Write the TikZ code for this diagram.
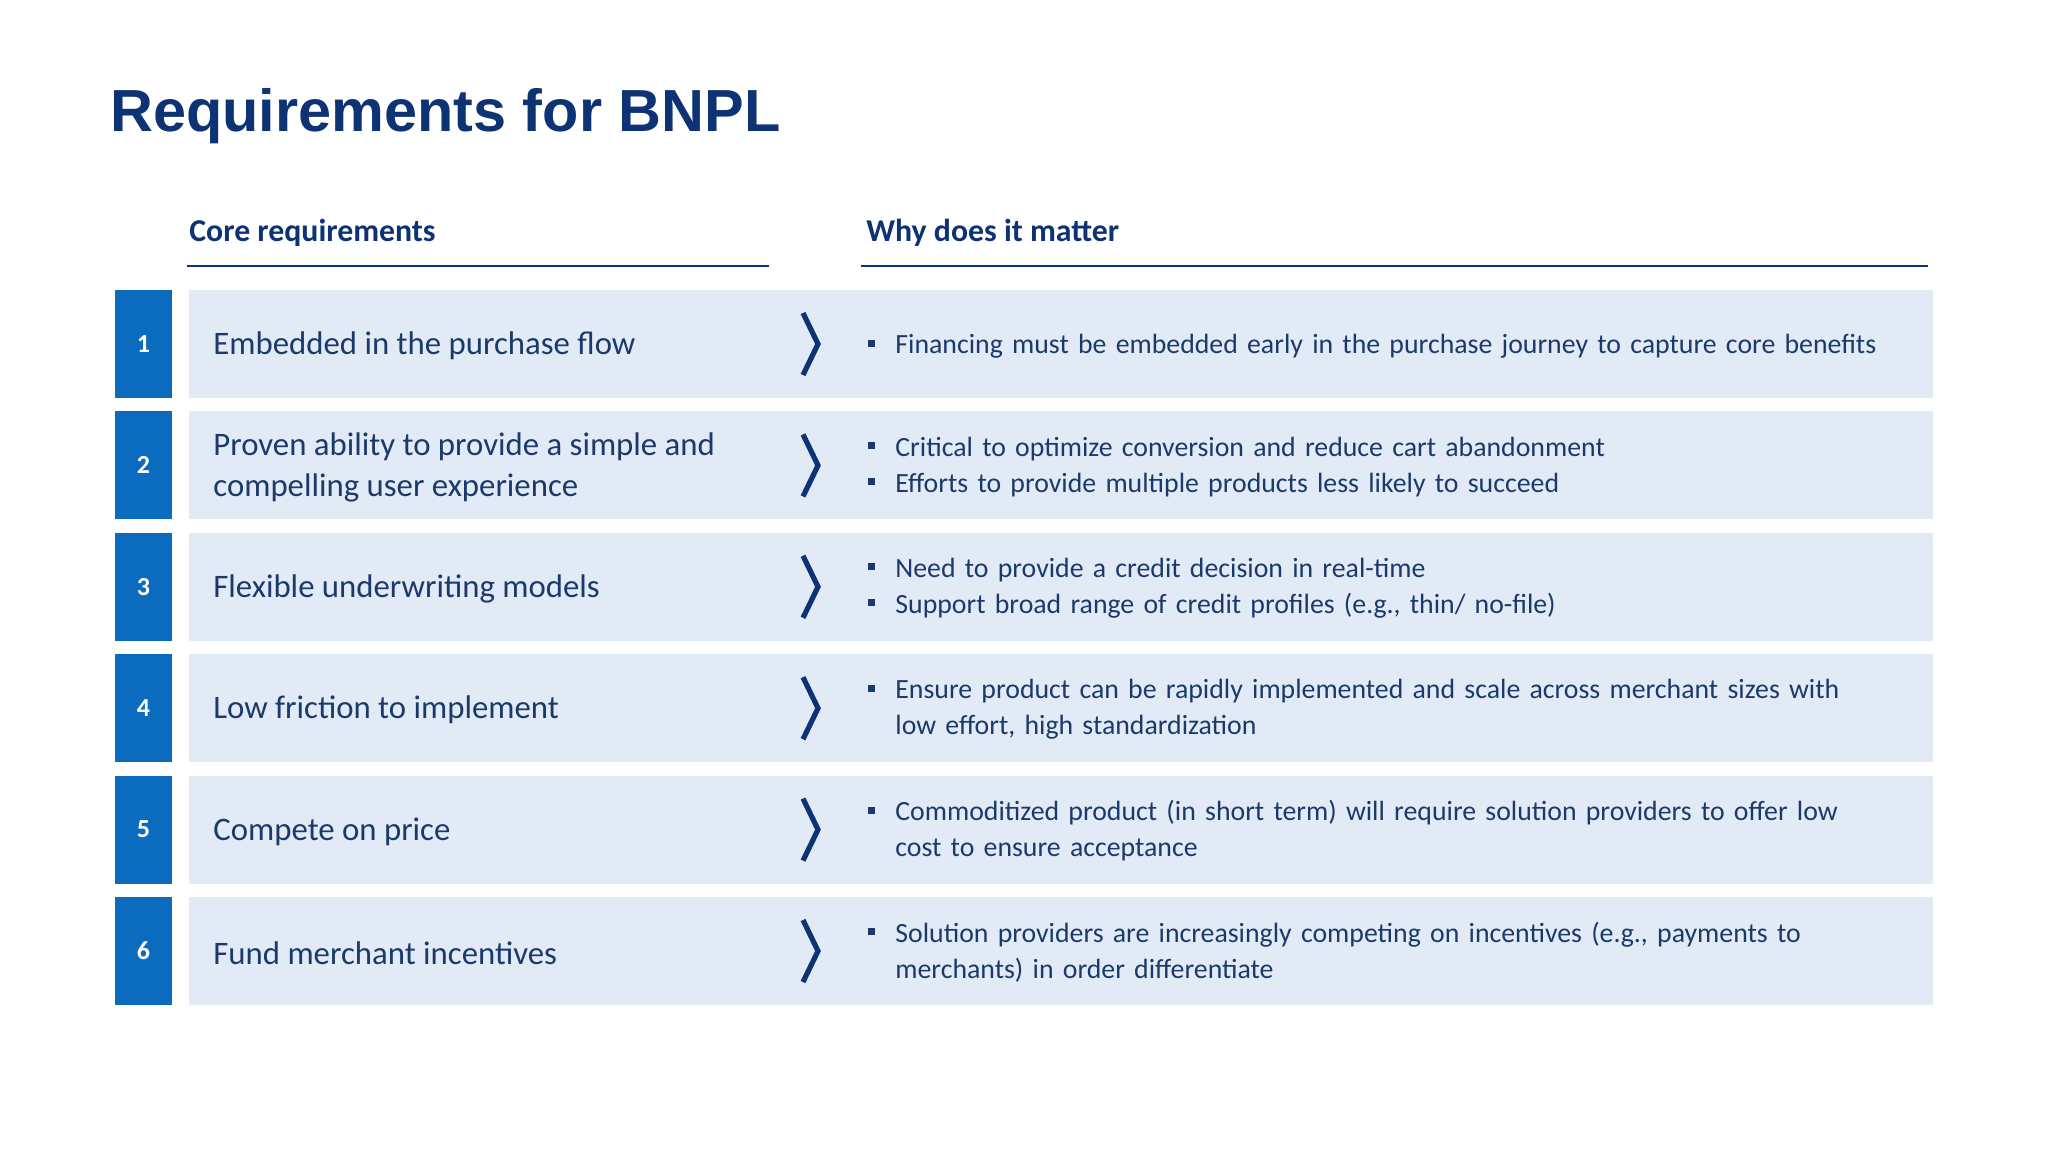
\documentclass[tikz,border=0pt]{standalone}
\usepackage{fontspec}
\setmainfont{Carlito}
\newfontfamily\titlefont{Liberation Sans}
\definecolor{navy}{HTML}{0E3375}
\definecolor{tnavy}{HTML}{1B3A6B}
\definecolor{nblue}{HTML}{0B6BBF}
\definecolor{rowbg}{HTML}{E2EAF6}
\begin{document}
\begin{tikzpicture}[x=0.5pt,y=-0.5pt,
  numbox/.style={fill=nblue,draw=none},
  rowbox/.style={fill=rowbg,draw=none},
  numtxt/.style={text=white,font=\bfseries\fontsize{13}{15}\selectfont},
  lefttxt/.style={anchor=west,align=left,text=tnavy,font=\fontsize{16.4}{20.5}\selectfont,inner sep=0},
  righttxt/.style={anchor=west,align=left,text=tnavy,font=\fontsize{13.9}{18}\selectfont,inner sep=0,text width=560pt},
  chev/.style={draw=navy,line width=2.6pt,line join=miter},
  bul/.style={fill=tnavy,minimum size=3.5pt,inner sep=0,draw=none}]
\fill[white] (0,0) rectangle (2048,1152);
\node[anchor=base west,inner sep=0,text=navy,font=\titlefont\bfseries\fontsize{29.7}{34}\selectfont] (title) at (110,131) {Requirements for BNPL};
\node[anchor=west,inner sep=0,text=navy,font=\bfseries\fontsize{15.9}{18}\selectfont] (h1) at (189,233) {Core requirements};
\node[anchor=west,inner sep=0,text=navy,font=\bfseries\fontsize{15.9}{18}\selectfont] (h2) at (866,233) {Why does it matter};
\draw[navy,line width=1.2pt] (187,266) coordinate (l1a) -- (769,266) coordinate (l1b);
\draw[navy,line width=1.2pt] (861,266) coordinate (l2a) -- (1928,266) coordinate (l2b);
\foreach \i/\num/\lt in {0/1/{Embedded in the purchase flow},1/2/{Proven ability to provide a simple and\\compelling user experience},2/3/{Flexible underwriting models},3/4/{Low friction to implement},4/5/{Compete on price},5/6/{Fund merchant incentives}}{
  \pgfmathsetmacro\top{290+121.4*\i}
  \pgfmathsetmacro\mid{\top+54}
  \fill[numbox] (115,\top) rectangle (172,\top+108);
  \fill[rowbox] (189,\top) rectangle (1933,\top+108);
  \node[numtxt] (n\num) at (143.5,\mid) {\num};
  \node[lefttxt] (t\num) at (213,\mid+2) {\lt};
  \draw[chev] (803,\mid-31) -- (818,\mid) -- (803,\mid+31);
}
\newcommand{\rtxt}[3]{\node[righttxt] (#1) at (895,#2) {#3};}
\newcommand{\bl}[2]{\node[bul] (#1) at (871,#2) {};}
\rtxt{r1}{346}{Financing must be embedded early in the purchase journey to capture core benefits}\bl{b1}{343}
\rtxt{r2a}{449}{Critical to optimize conversion and reduce cart abandonment}\bl{b2a}{445}
\rtxt{r2b}{485}{Efforts to provide multiple products less likely to succeed}\bl{b2b}{481}
\rtxt{r3a}{570}{Need to provide a credit decision in real-time}\bl{b3a}{566}
\rtxt{r3b}{606}{Support broad range of credit profiles (e.g., thin/ no-file)}\bl{b3b}{602}
\rtxt{r4}{709}{Ensure product can be rapidly implemented and scale across merchant sizes with\\low effort, high standardization}\bl{b4}{688}
\rtxt{r5}{831}{Commoditized product (in short term) will require solution providers to offer low\\cost to ensure acceptance}\bl{b5}{810}
\rtxt{r6}{952}{Solution providers are increasingly competing on incentives (e.g., payments to\\merchants) in order differentiate}\bl{b6}{931}
\end{tikzpicture}
\end{document}
